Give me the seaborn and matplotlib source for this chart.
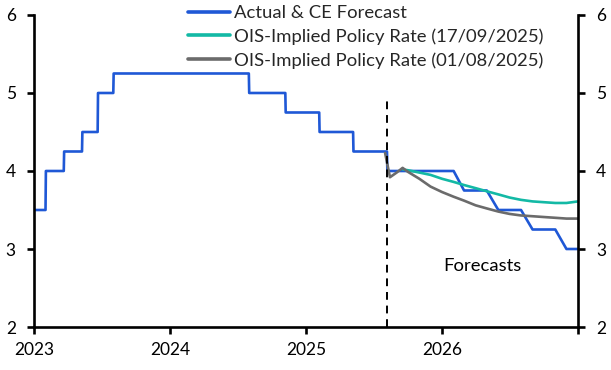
import matplotlib
matplotlib.use("Agg")
import matplotlib.pyplot as plt
import seaborn as sns
import pandas as pd

# ---- data ----
actual_change_dates = ["2023-01-01", "2023-02-02", "2023-03-23", "2023-05-11", "2023-06-22",
                       "2023-08-03", "2024-08-01", "2024-11-07", "2025-02-06", "2025-05-08",
                       "2025-08-07"]
actual_rates = [3.5, 4.0, 4.25, 4.5, 5.0, 5.25, 5.0, 4.75, 4.5, 4.25, 4.0]

forecast_dates = ["2025-09-01", "2025-10-01", "2025-11-01", "2025-12-01", "2026-01-01",
                  "2026-02-01", "2026-03-01", "2026-04-01", "2026-05-01", "2026-06-01",
                  "2026-07-01", "2026-08-01", "2026-09-01", "2026-10-01", "2026-11-01",
                  "2026-12-01", "2027-01-01"]
forecast_rates = [4.0, 4.0, 4.0, 4.0, 4.0, 4.0, 3.75, 3.75, 3.75, 3.5, 3.5, 3.5,
                  3.25, 3.25, 3.25, 3.0, 3.0]

ois_sep_dates = ["2025-09-17", "2025-10-01", "2025-11-01", "2025-12-01", "2026-01-01",
                 "2026-02-01", "2026-03-01", "2026-04-01", "2026-05-01", "2026-06-01",
                 "2026-07-01", "2026-08-01", "2026-09-01", "2026-10-01", "2026-11-01",
                 "2026-12-01", "2027-01-01"]
ois_sep_rates = [4.02, 4.01, 3.98, 3.95, 3.90, 3.86, 3.82, 3.78, 3.74, 3.70,
                 3.66, 3.63, 3.61, 3.60, 3.59, 3.59, 3.61]

ois_aug_dates = ["2025-08-01", "2025-08-14", "2025-09-01", "2025-09-17", "2025-10-01",
                 "2025-11-01", "2025-12-01", "2026-01-01", "2026-02-01", "2026-03-01",
                 "2026-04-01", "2026-05-01", "2026-06-01", "2026-07-01", "2026-08-01",
                 "2026-09-01", "2026-10-01", "2026-11-01", "2026-12-01", "2027-01-01"]
ois_aug_rates = [4.23, 3.92, 3.98, 4.04, 3.99, 3.90, 3.80, 3.73, 3.67, 3.62,
                 3.56, 3.52, 3.48, 3.45, 3.43, 3.42, 3.41, 3.40, 3.39, 3.39]

labels = ["Actual & CE Forecast", "OIS-Implied Policy Rate (17/09/2025)",
          "OIS-Implied Policy Rate (01/08/2025)"]
colors = ["#1F58D6", "#13B9A5", "#6B6B6B"]
forecast_start = "2025-08-07"
year_ticks = ["2023-01-01", "2024-01-01", "2025-01-01", "2026-01-01", "2027-01-01"]
year_labels = ["2023", "2024", "2025", "2026", ""]
y_ticks = [2, 3, 4, 5, 6]

# ---- build series ----
act = pd.Series(actual_rates, index=pd.to_datetime(actual_change_dates))
daily_idx = pd.date_range(actual_change_dates[0], forecast_start, freq="D")
act_daily = act.reindex(daily_idx).ffill()
blue = pd.concat([act_daily, pd.Series(forecast_rates, index=pd.to_datetime(forecast_dates))])
df_blue = pd.DataFrame({"date": blue.index, "rate": blue.values})
df_sep = pd.DataFrame({"date": pd.to_datetime(ois_sep_dates), "rate": ois_sep_rates})
df_aug = pd.DataFrame({"date": pd.to_datetime(ois_aug_dates), "rate": ois_aug_rates})

sns.set_theme(style="white")
plt.rcParams["font.family"] = ["Lato", "DejaVu Sans"]

fig = plt.figure(figsize=(6.11, 3.70), dpi=100)
ax = fig.add_axes([0.0556, 0.1162, 0.8904, 0.8433])

lw = 1.9
sns.lineplot(data=df_blue, x="date", y="rate", ax=ax, color=colors[0], lw=lw, label=labels[0])
sns.lineplot(data=df_sep, x="date", y="rate", ax=ax, color=colors[1], lw=lw, label=labels[1])
sns.lineplot(data=df_aug, x="date", y="rate", ax=ax, color=colors[2], lw=lw, label=labels[2])

ax.axvline(pd.Timestamp(forecast_start), ymin=0, ymax=(4.93 - 2) / 4, color="black",
           lw=1.4, ls=(0, (4, 3)))
ax.text(pd.Timestamp("2026-04-20"), 2.78, "Forecasts", ha="center", va="center", fontsize=13.3,
        color="black")

ax.set_xlim(pd.Timestamp(year_ticks[0]), pd.Timestamp(year_ticks[-1]))
ax.set_ylim(2, 6)
ax.set_xticks(pd.to_datetime(year_ticks))
ax.set_xticklabels(year_labels)
ax.set_yticks(y_ticks)
ax.set_xlabel("")
ax.set_ylabel("")

for side in ["left", "right", "bottom"]:
    ax.spines[side].set_visible(True)
    ax.spines[side].set_color("black")
    ax.spines[side].set_linewidth(1.9)
ax.spines["top"].set_visible(False)

ax.tick_params(axis="y", which="both", left=True, right=True, labelleft=True, labelright=True,
               direction="out", length=5, width=1.9, labelsize=12.5, pad=8, colors="black")
ax.tick_params(axis="x", bottom=True, direction="out", length=5, width=1.9, labelsize=12.5,
               pad=6, colors="black")

leg = ax.legend(loc="upper left", bbox_to_anchor=(0.3077, 0.986), bbox_transform=fig.transFigure,
                frameon=False, fontsize=13.3, handlelength=2.27, handletextpad=0.2,
                labelspacing=0.39, borderpad=0, borderaxespad=0)
for line in leg.get_lines():
    line.set_linewidth(2.6)

fig.savefig("out.png", dpi=100)
